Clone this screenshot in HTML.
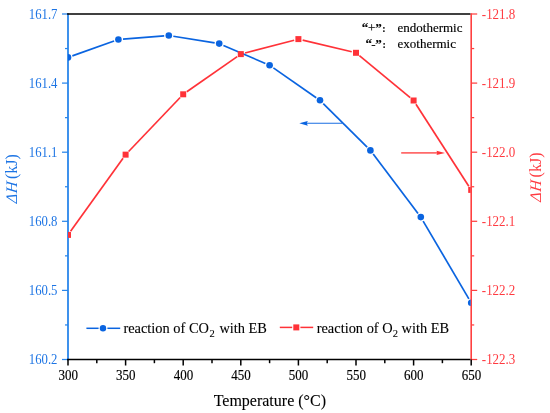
<!DOCTYPE html>
<html><head><meta charset="utf-8"><title>Delta H vs Temperature</title>
<style>html,body{margin:0;padding:0;background:#fff;overflow:hidden}svg{display:block}</style>
</head><body>
<svg width="550" height="413" viewBox="0 0 550 413" font-family='"Liberation Serif","Times New Roman",serif'>
<rect width="550" height="413" fill="#fff"/>
<defs><clipPath id="c"><rect x="68.0" y="14.8" width="402.7" height="343.9"/></clipPath></defs>
<line x1="306" y1="123.3" x2="342.1" y2="123.3" stroke="#1a6ee2" stroke-width="1.1"/>
<path d="M299.3 123.3 L307.8 120.9 L306.8 123.3 L307.8 125.7 Z" fill="#0a64e0"/>
<line x1="401.2" y1="152.9" x2="438" y2="152.9" stroke="#ff6a6a" stroke-width="1.6"/>
<path d="M445 152.9 L436.5 150.7 L437.3 152.9 L436.5 155.1 Z" fill="#ff3238"/>
<g stroke="#2a86ea" stroke-width="1.25"><line x1="62.00" y1="14.00" x2="68.0" y2="14.00"/><line x1="65.00" y1="48.55" x2="68.0" y2="48.55"/><line x1="62.00" y1="83.10" x2="68.0" y2="83.10"/><line x1="65.00" y1="117.65" x2="68.0" y2="117.65"/><line x1="62.00" y1="152.20" x2="68.0" y2="152.20"/><line x1="65.00" y1="186.75" x2="68.0" y2="186.75"/><line x1="62.00" y1="221.30" x2="68.0" y2="221.30"/><line x1="65.00" y1="255.85" x2="68.0" y2="255.85"/><line x1="62.00" y1="290.40" x2="68.0" y2="290.40"/><line x1="65.00" y1="324.95" x2="68.0" y2="324.95"/><line x1="62.00" y1="359.50" x2="68.0" y2="359.50"/></g>
<line x1="68.0" y1="13.15" x2="68.0" y2="360.35" stroke="#2a86ea" stroke-width="1.8"/>
<g stroke="#ff4040" stroke-width="1.25"><line x1="471.2" y1="14.00" x2="477.20" y2="14.00"/><line x1="471.2" y1="48.55" x2="474.20" y2="48.55"/><line x1="471.2" y1="83.10" x2="477.20" y2="83.10"/><line x1="471.2" y1="117.65" x2="474.20" y2="117.65"/><line x1="471.2" y1="152.20" x2="477.20" y2="152.20"/><line x1="471.2" y1="186.75" x2="474.20" y2="186.75"/><line x1="471.2" y1="221.30" x2="477.20" y2="221.30"/><line x1="471.2" y1="255.85" x2="474.20" y2="255.85"/><line x1="471.2" y1="290.40" x2="477.20" y2="290.40"/><line x1="471.2" y1="324.95" x2="474.20" y2="324.95"/><line x1="471.2" y1="359.50" x2="477.20" y2="359.50"/></g>
<line x1="471.2" y1="13.15" x2="471.2" y2="360.35" stroke="#ff4040" stroke-width="1.6"/>
<line x1="67.1" y1="14.0" x2="470.4" y2="14.0" stroke="#000" stroke-width="1.7"/>
<line x1="67.1" y1="359.5" x2="470.4" y2="359.5" stroke="#000" stroke-width="1.7"/>
<g stroke="#000" stroke-width="1.5"><line x1="68.00" y1="359.5" x2="68.00" y2="365.50"/><line x1="96.80" y1="359.5" x2="96.80" y2="363.20"/><line x1="125.60" y1="359.5" x2="125.60" y2="365.50"/><line x1="154.40" y1="359.5" x2="154.40" y2="363.20"/><line x1="183.20" y1="359.5" x2="183.20" y2="365.50"/><line x1="212.00" y1="359.5" x2="212.00" y2="363.20"/><line x1="240.80" y1="359.5" x2="240.80" y2="365.50"/><line x1="269.60" y1="359.5" x2="269.60" y2="363.20"/><line x1="298.40" y1="359.5" x2="298.40" y2="365.50"/><line x1="327.20" y1="359.5" x2="327.20" y2="363.20"/><line x1="356.00" y1="359.5" x2="356.00" y2="365.50"/><line x1="384.80" y1="359.5" x2="384.80" y2="363.20"/><line x1="413.60" y1="359.5" x2="413.60" y2="365.50"/><line x1="442.40" y1="359.5" x2="442.40" y2="363.20"/><line x1="471.20" y1="359.5" x2="471.20" y2="365.50"/></g>
<g clip-path="url(#c)">
<g stroke="#0a64e0" stroke-width="1.7"><line x1="72.33" y1="55.86" x2="114.07" y2="41.04"/><line x1="122.99" y1="39.14" x2="164.21" y2="35.86"/><line x1="173.34" y1="36.23" x2="214.66" y2="42.87"/><line x1="223.43" y1="45.42" x2="265.37" y2="63.48"/><line x1="273.38" y1="67.92" x2="316.22" y2="97.68"/><line x1="323.26" y1="103.54" x2="367.14" y2="147.16"/><line x1="373.17" y1="154.07" x2="418.03" y2="213.43"/><line x1="423.13" y1="221.07" x2="468.87" y2="298.83"/></g>
<g fill="#0a64e0"><circle cx="68.00" cy="57.4" r="3.3"/><circle cx="118.40" cy="39.5" r="3.3"/><circle cx="168.80" cy="35.5" r="3.3"/><circle cx="219.20" cy="43.6" r="3.3"/><circle cx="269.60" cy="65.3" r="3.3"/><circle cx="320.00" cy="100.3" r="3.3"/><circle cx="370.40" cy="150.4" r="3.3"/><circle cx="420.80" cy="217.1" r="3.3"/><circle cx="471.20" cy="302.8" r="3.3"/></g>
<g stroke="#ff3238" stroke-width="1.7"><line x1="70.57" y1="231.33" x2="123.03" y2="158.22"/><line x1="128.64" y1="151.47" x2="180.16" y2="97.48"/><line x1="186.81" y1="91.78" x2="237.19" y2="56.62"/><line x1="245.06" y1="52.99" x2="294.14" y2="40.21"/><line x1="302.68" y1="40.12" x2="351.72" y2="51.78"/><line x1="359.39" y1="55.61" x2="410.21" y2="97.69"/><line x1="415.98" y1="104.20" x2="468.82" y2="186.20"/></g>
<g fill="#ff3238"><rect x="65.00" y="231.90" width="6" height="6"/><rect x="122.60" y="151.65" width="6" height="6"/><rect x="180.20" y="91.30" width="6" height="6"/><rect x="237.80" y="51.10" width="6" height="6"/><rect x="295.40" y="36.10" width="6" height="6"/><rect x="353.00" y="49.80" width="6" height="6"/><rect x="410.60" y="97.50" width="6" height="6"/><rect x="468.20" y="186.90" width="6" height="6"/></g>
</g>
<g font-size="13" fill="#1c74e4" stroke="#1c74e4" stroke-width="0"><text transform="translate(57.5 18.60) scale(0.98 1.07)" text-anchor="end">161.7</text><text transform="translate(57.5 87.70) scale(0.98 1.07)" text-anchor="end">161.4</text><text transform="translate(57.5 156.80) scale(0.98 1.07)" text-anchor="end">161.1</text><text transform="translate(57.5 225.90) scale(0.98 1.07)" text-anchor="end">160.8</text><text transform="translate(57.5 295.00) scale(0.98 1.07)" text-anchor="end">160.5</text><text transform="translate(57.5 364.10) scale(0.98 1.07)" text-anchor="end">160.2</text></g>
<g font-size="13" fill="#ff3a40" stroke="#ff3a40" stroke-width="0"><text transform="translate(481.8 18.60) scale(1.0 1.07)">-121.8</text><text transform="translate(481.8 87.70) scale(1.0 1.07)">-121.9</text><text transform="translate(481.8 156.80) scale(1.0 1.07)">-122.0</text><text transform="translate(481.8 225.90) scale(1.0 1.07)">-122.1</text><text transform="translate(481.8 295.00) scale(1.0 1.07)">-122.2</text><text transform="translate(481.8 364.10) scale(1.0 1.07)">-122.3</text></g>
<g font-size="13" fill="#000" stroke="#000" stroke-width="0.15"><text transform="translate(68.20 379.9) scale(1.0 1.07)" text-anchor="middle">300</text><text transform="translate(125.80 379.9) scale(1.0 1.07)" text-anchor="middle">350</text><text transform="translate(183.40 379.9) scale(1.0 1.07)" text-anchor="middle">400</text><text transform="translate(241.00 379.9) scale(1.0 1.07)" text-anchor="middle">450</text><text transform="translate(298.60 379.9) scale(1.0 1.07)" text-anchor="middle">500</text><text transform="translate(356.20 379.9) scale(1.0 1.07)" text-anchor="middle">550</text><text transform="translate(413.80 379.9) scale(1.0 1.07)" text-anchor="middle">600</text><text transform="translate(471.40 379.9) scale(1.0 1.07)" text-anchor="middle">650</text></g>
<text x="269.8" y="405.8" text-anchor="middle" font-size="16" fill="#000" stroke="#000" stroke-width="0.1">Temperature (°C)</text>
<g font-size="16" fill="#1c74e4"><text transform="translate(16.6 204.6) rotate(-90) skewX(-16)">ΔH</text><text transform="translate(16.6 179.00) rotate(-90)">(kJ)</text></g>
<g font-size="16" fill="#ff3a40"><text transform="translate(540.9 203.0) rotate(-90) skewX(-16)">ΔH</text><text transform="translate(540.9 177.40) rotate(-90)">(kJ)</text></g>
<g font-size="13" fill="#000" stroke="#000" stroke-width="0.15"><text y="32.3"><tspan x="361.7" font-weight="bold">“</tspan><tspan x="367.9">+</tspan><tspan x="375.3" font-weight="bold">”</tspan><tspan x="382.2" y="32.2" font-size="10" font-weight="bold">:</tspan><tspan x="397.5" y="32.3">endothermic</tspan></text><text y="48.3"><tspan x="365.4" font-weight="bold">“</tspan><tspan x="371.2" y="49.3">-</tspan><tspan x="375.3" y="48.3" font-weight="bold">”</tspan><tspan x="382.4" y="48.3" font-size="10" font-weight="bold">:</tspan><tspan x="397.5" y="48.3">exothermic</tspan></text></g>
<g stroke="#0a64e0" stroke-width="1.5"><line x1="86.4" y1="328.3" x2="98.6" y2="328.3"/><line x1="107.4" y1="328.3" x2="120.2" y2="328.3"/></g><circle cx="103.0" cy="328.3" r="3.2" fill="#0a64e0"/>
<text y="333.0" font-size="14.4" fill="#000" stroke="#000" stroke-width="0.1"><tspan x="123.4">reaction of CO</tspan><tspan x="209.6" dy="4.2" font-size="10.5">2</tspan><tspan x="219.4" dy="-4.2">with EB</tspan></text>
<g stroke="#ff3238" stroke-width="1.5"><line x1="279.8" y1="327.4" x2="292.2" y2="327.4"/><line x1="300.4" y1="327.4" x2="313.2" y2="327.4"/></g><rect x="293.3" y="324.4" width="6" height="6" fill="#ff3238"/>
<text y="333.0" font-size="14.4" fill="#000" stroke="#000" stroke-width="0.1"><tspan x="316.7">reaction of O</tspan><tspan x="392.8" dy="4.0" font-size="10.5">2</tspan><tspan x="401.6" dy="-4.0">with EB</tspan></text>
</svg>
</body></html>
